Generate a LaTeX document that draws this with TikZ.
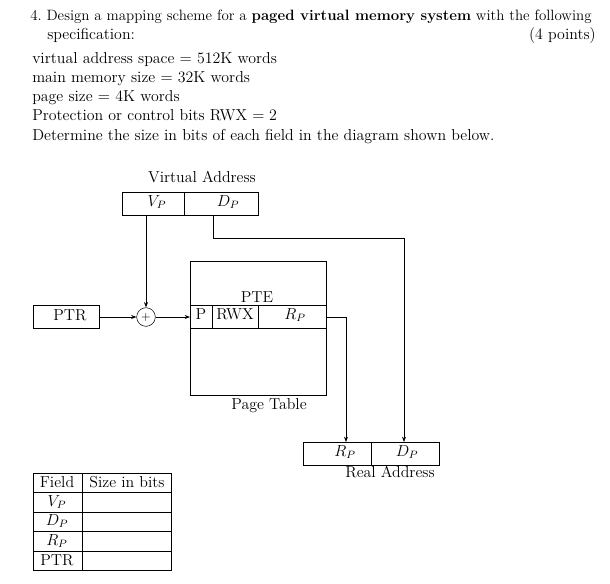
\documentclass[tikz,border=0pt]{standalone}
\usetikzlibrary{arrows.meta}
\begin{document}
\begin{tikzpicture}[x=0.75pt,y=-0.75pt,font=\fontsize{11.9}{14}\selectfont,
 box/.style={draw,line width=0.5pt},
 ln/.style={draw,line width=0.5pt},
 arr/.style={ln,-{Stealth[length=4pt,width=3pt]}},
 txt/.style={anchor=base west,inner sep=0pt}]
\useasboundingbox (0,0) rectangle (610,583);
\node[txt] (t1) at (30,20) {\resizebox{421pt}{!}{4.\ Design a mapping scheme for a \textbf{paged virtual memory system} with the following}};
\node[txt] (t2) at (47,39) {specification:};
\node[anchor=base east,inner sep=0pt] (t3) at (596,39) {(4 points)};
\node[txt] (l1) at (32,63) {virtual address space $=$ 512K words};
\node[txt] (l2) at (32,82) {main memory size $=$ 32K words};
\node[txt] (l3) at (32,101) {page size $=$ 4K words};
\node[txt] (l4) at (32,120) {Protection or control bits RWX $=2$};
\node[txt] (l5) at (32,140) {Determine the size in bits of each field in the diagram shown below.};
% virtual address
\node (vat) at (202,177) {Virtual Address};
\draw[box] (122,192) rectangle (258,215);
\draw[ln] (184,192) -- (184,215);
\node (vp) at (157,202) {$V_P$};
\node (dp) at (228,202) {$D_P$};
% PTR and adder
\draw[box] (33,305) rectangle (99,328);
\node (ptr) at (70,315) {PTR};
\node[draw,circle,inner sep=0pt,minimum size=14pt,font=\small] (plus) at (146,317) {$+$};
\coordinate (vpb) at (146,215);
\draw[arr] (vpb) -- (plus);
\draw[arr] (99,317) -- (plus);
% page table
\draw[box] (190,261) rectangle (326,395);
\draw[box] (190,305) rectangle (326,328);
\draw[ln] (212,305) -- (212,328);
\draw[ln] (258,305) -- (258,328);
\node (pte) at (257,297) {PTE};
\node (p) at (201,314) {P};
\node (rwx) at (235,314) {RWX};
\node (rp) at (295,315) {$R_P$};
\node (ptl) at (269,406) {Page Table};
\coordinate (ptin) at (190,317);
\draw[arr] (plus) -- (ptin);
% real address
\draw[box] (303,442) rectangle (439,465);
\draw[ln] (371,442) -- (371,465);
\node (rrp) at (345,452) {$R_P$};
\node (rdp) at (407,452) {$D_P$};
\node (rat) at (390,472) {Real Address};
\coordinate (dpb) at (213,215);
\coordinate (rdpt) at (404,442);
\coordinate (rrpt) at (346,442);
\draw[arr] (dpb) -- (213,238) -- (404,238) -- (rdpt);
\draw[arr] (326,317) -- (346,317) -- (rrpt);
% table
\draw[box] (33,473) rectangle (171,570);
\foreach \y in {492,512,531,551} \draw[ln] (33,\y) -- (171,\y);
\draw[ln] (82,473) -- (82,570);
\node (f) at (57,482) {Field};
\node (s) at (127,482) {Size in bits};
\node (f1) at (57,502) {$V_P$};
\node (f2) at (57,521) {$D_P$};
\node (f3) at (57,541) {$R_P$};
\node (f4) at (57,560) {PTR};
\end{tikzpicture}
\end{document}
